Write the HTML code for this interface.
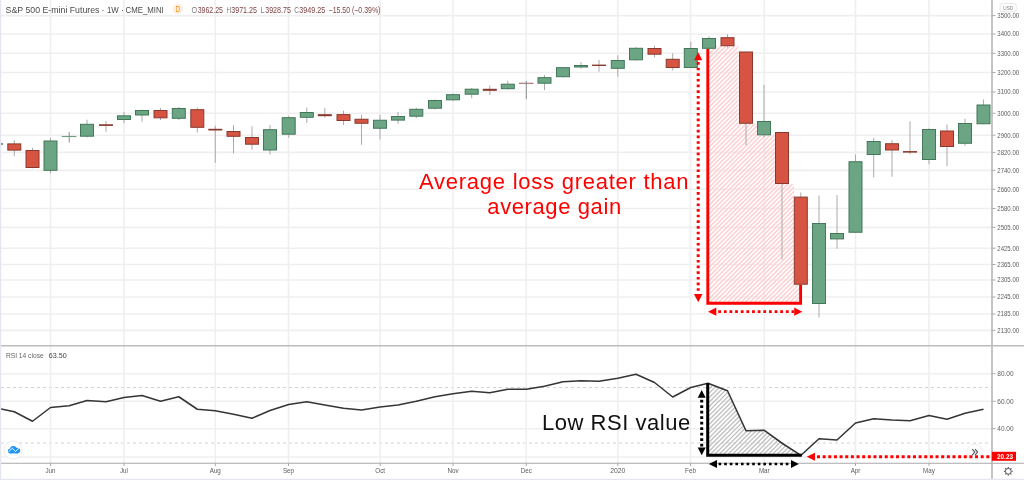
<!DOCTYPE html>
<html><head><meta charset="utf-8"><style>
html,body{margin:0;padding:0;width:1024px;height:480px;overflow:hidden;background:#fff}
svg{will-change:transform}
</style></head><body>
<svg width="1024" height="480" viewBox="0 0 1024 480" style="position:absolute;left:0;top:0"><defs><pattern id="hr" patternUnits="userSpaceOnUse" width="2.6" height="2.6" patternTransform="rotate(45)"><rect x="0" y="0" width="1.2" height="2.6" fill="#ffc2c2"/></pattern><pattern id="hk" patternUnits="userSpaceOnUse" width="2.4" height="2.4" patternTransform="rotate(45)"><rect x="0" y="0" width="0.9" height="2.4" fill="#a8a8a8"/></pattern></defs><rect x="0" y="0" width="1024" height="480" fill="#ffffff"/><line x1="1" y1="15.6" x2="992" y2="15.6" stroke="#efeff0" stroke-width="1.6"/><line x1="1" y1="34" x2="992" y2="34" stroke="#efeff0" stroke-width="1.6"/><line x1="1" y1="53.3" x2="992" y2="53.3" stroke="#efeff0" stroke-width="1.6"/><line x1="1" y1="72.5" x2="992" y2="72.5" stroke="#efeff0" stroke-width="1.6"/><line x1="1" y1="92" x2="992" y2="92" stroke="#efeff0" stroke-width="1.6"/><line x1="1" y1="113.3" x2="992" y2="113.3" stroke="#efeff0" stroke-width="1.6"/><line x1="1" y1="135.2" x2="992" y2="135.2" stroke="#efeff0" stroke-width="1.6"/><line x1="1" y1="152.4" x2="992" y2="152.4" stroke="#efeff0" stroke-width="1.6"/><line x1="1" y1="170.4" x2="992" y2="170.4" stroke="#efeff0" stroke-width="1.6"/><line x1="1" y1="189.3" x2="992" y2="189.3" stroke="#efeff0" stroke-width="1.6"/><line x1="1" y1="208.5" x2="992" y2="208.5" stroke="#efeff0" stroke-width="1.6"/><line x1="1" y1="227.4" x2="992" y2="227.4" stroke="#efeff0" stroke-width="1.6"/><line x1="1" y1="248.2" x2="992" y2="248.2" stroke="#efeff0" stroke-width="1.6"/><line x1="1" y1="264.5" x2="992" y2="264.5" stroke="#efeff0" stroke-width="1.6"/><line x1="1" y1="280" x2="992" y2="280" stroke="#efeff0" stroke-width="1.6"/><line x1="1" y1="297" x2="992" y2="297" stroke="#efeff0" stroke-width="1.6"/><line x1="1" y1="314" x2="992" y2="314" stroke="#efeff0" stroke-width="1.6"/><line x1="1" y1="330.4" x2="992" y2="330.4" stroke="#efeff0" stroke-width="1.6"/><line x1="1" y1="373.75" x2="992" y2="373.75" stroke="#efeff0" stroke-width="1.6"/><line x1="1" y1="401.25" x2="992" y2="401.25" stroke="#efeff0" stroke-width="1.6"/><line x1="1" y1="428.75" x2="992" y2="428.75" stroke="#efeff0" stroke-width="1.6"/><line x1="1" y1="457" x2="992" y2="457" stroke="#efeff0" stroke-width="1.6"/><line x1="1" y1="387.5" x2="992" y2="387.5" stroke="#d2d2d2" stroke-width="1" stroke-dasharray="3 3"/><line x1="1" y1="443" x2="992" y2="443" stroke="#d2d2d2" stroke-width="1" stroke-dasharray="3 3"/><line x1="50.5" y1="0" x2="50.5" y2="463" stroke="#efeff0" stroke-width="1.6"/><line x1="124" y1="0" x2="124" y2="463" stroke="#efeff0" stroke-width="1.6"/><line x1="215.3" y1="0" x2="215.3" y2="463" stroke="#efeff0" stroke-width="1.6"/><line x1="288.5" y1="0" x2="288.5" y2="463" stroke="#efeff0" stroke-width="1.6"/><line x1="380.2" y1="0" x2="380.2" y2="463" stroke="#efeff0" stroke-width="1.6"/><line x1="453" y1="0" x2="453" y2="463" stroke="#efeff0" stroke-width="1.6"/><line x1="526.3" y1="0" x2="526.3" y2="463" stroke="#efeff0" stroke-width="1.6"/><line x1="617.8" y1="0" x2="617.8" y2="463" stroke="#efeff0" stroke-width="1.6"/><line x1="690.5" y1="0" x2="690.5" y2="463" stroke="#efeff0" stroke-width="1.6"/><line x1="764.3" y1="0" x2="764.3" y2="463" stroke="#efeff0" stroke-width="1.6"/><line x1="855.5" y1="0" x2="855.5" y2="463" stroke="#efeff0" stroke-width="1.6"/><line x1="929" y1="0" x2="929" y2="463" stroke="#efeff0" stroke-width="1.6"/><line x1="992" y1="0" x2="992" y2="479" stroke="#b0b0b2" stroke-width="1.5"/><line x1="0" y1="463.25" x2="1024" y2="463.25" stroke="#a9a9ab" stroke-width="1.1"/><line x1="992.3" y1="15.6" x2="995.5" y2="15.6" stroke="#a9a9ab" stroke-width="1"/><line x1="992.3" y1="34" x2="995.5" y2="34" stroke="#a9a9ab" stroke-width="1"/><line x1="992.3" y1="53.3" x2="995.5" y2="53.3" stroke="#a9a9ab" stroke-width="1"/><line x1="992.3" y1="72.5" x2="995.5" y2="72.5" stroke="#a9a9ab" stroke-width="1"/><line x1="992.3" y1="92" x2="995.5" y2="92" stroke="#a9a9ab" stroke-width="1"/><line x1="992.3" y1="113.3" x2="995.5" y2="113.3" stroke="#a9a9ab" stroke-width="1"/><line x1="992.3" y1="135.2" x2="995.5" y2="135.2" stroke="#a9a9ab" stroke-width="1"/><line x1="992.3" y1="152.4" x2="995.5" y2="152.4" stroke="#a9a9ab" stroke-width="1"/><line x1="992.3" y1="170.4" x2="995.5" y2="170.4" stroke="#a9a9ab" stroke-width="1"/><line x1="992.3" y1="189.3" x2="995.5" y2="189.3" stroke="#a9a9ab" stroke-width="1"/><line x1="992.3" y1="208.5" x2="995.5" y2="208.5" stroke="#a9a9ab" stroke-width="1"/><line x1="992.3" y1="227.4" x2="995.5" y2="227.4" stroke="#a9a9ab" stroke-width="1"/><line x1="992.3" y1="248.2" x2="995.5" y2="248.2" stroke="#a9a9ab" stroke-width="1"/><line x1="992.3" y1="264.5" x2="995.5" y2="264.5" stroke="#a9a9ab" stroke-width="1"/><line x1="992.3" y1="280" x2="995.5" y2="280" stroke="#a9a9ab" stroke-width="1"/><line x1="992.3" y1="297" x2="995.5" y2="297" stroke="#a9a9ab" stroke-width="1"/><line x1="992.3" y1="314" x2="995.5" y2="314" stroke="#a9a9ab" stroke-width="1"/><line x1="992.3" y1="330.4" x2="995.5" y2="330.4" stroke="#a9a9ab" stroke-width="1"/><line x1="992.3" y1="373.75" x2="995.5" y2="373.75" stroke="#a9a9ab" stroke-width="1"/><line x1="992.3" y1="401.25" x2="995.5" y2="401.25" stroke="#a9a9ab" stroke-width="1"/><line x1="992.3" y1="428.75" x2="995.5" y2="428.75" stroke="#a9a9ab" stroke-width="1"/><line x1="50.5" y1="463.25" x2="50.5" y2="466" stroke="#a9a9ab" stroke-width="1"/><line x1="124" y1="463.25" x2="124" y2="466" stroke="#a9a9ab" stroke-width="1"/><line x1="215.3" y1="463.25" x2="215.3" y2="466" stroke="#a9a9ab" stroke-width="1"/><line x1="288.5" y1="463.25" x2="288.5" y2="466" stroke="#a9a9ab" stroke-width="1"/><line x1="380.2" y1="463.25" x2="380.2" y2="466" stroke="#a9a9ab" stroke-width="1"/><line x1="453" y1="463.25" x2="453" y2="466" stroke="#a9a9ab" stroke-width="1"/><line x1="526.3" y1="463.25" x2="526.3" y2="466" stroke="#a9a9ab" stroke-width="1"/><line x1="617.8" y1="463.25" x2="617.8" y2="466" stroke="#a9a9ab" stroke-width="1"/><line x1="690.5" y1="463.25" x2="690.5" y2="466" stroke="#a9a9ab" stroke-width="1"/><line x1="764.3" y1="463.25" x2="764.3" y2="466" stroke="#a9a9ab" stroke-width="1"/><line x1="855.5" y1="463.25" x2="855.5" y2="466" stroke="#a9a9ab" stroke-width="1"/><line x1="929" y1="463.25" x2="929" y2="466" stroke="#a9a9ab" stroke-width="1"/><clipPath id="cr"><polygon points="709,46 738.5,46 738.5,123.6 757,123.6 757,135.3 775,135.3 775,184 794,184 794,284.7 801,284.7 801,303 709,303"/></clipPath><path clip-path="url(#cr)" d="M449.00,305 L709.00,45 M453.45,305 L713.45,45 M457.90,305 L717.90,45 M462.35,305 L722.35,45 M466.80,305 L726.80,45 M471.25,305 L731.25,45 M475.70,305 L735.70,45 M480.15,305 L740.15,45 M484.60,305 L744.60,45 M489.05,305 L749.05,45 M493.50,305 L753.50,45 M497.95,305 L757.95,45 M502.40,305 L762.40,45 M506.85,305 L766.85,45 M511.30,305 L771.30,45 M515.75,305 L775.75,45 M520.20,305 L780.20,45 M524.65,305 L784.65,45 M529.10,305 L789.10,45 M533.55,305 L793.55,45 M538.00,305 L798.00,45 M542.45,305 L802.45,45 M546.90,305 L806.90,45 M551.35,305 L811.35,45 M555.80,305 L815.80,45 M560.25,305 L820.25,45 M564.70,305 L824.70,45 M569.15,305 L829.15,45 M573.60,305 L833.60,45 M578.05,305 L838.05,45 M582.50,305 L842.50,45 M586.95,305 L846.95,45 M591.40,305 L851.40,45 M595.85,305 L855.85,45 M600.30,305 L860.30,45 M604.75,305 L864.75,45 M609.20,305 L869.20,45 M613.65,305 L873.65,45 M618.10,305 L878.10,45 M622.55,305 L882.55,45 M627.00,305 L887.00,45 M631.45,305 L891.45,45 M635.90,305 L895.90,45 M640.35,305 L900.35,45 M644.80,305 L904.80,45 M649.25,305 L909.25,45 M653.70,305 L913.70,45 M658.15,305 L918.15,45 M662.60,305 L922.60,45 M667.05,305 L927.05,45 M671.50,305 L931.50,45 M675.95,305 L935.95,45 M680.40,305 L940.40,45 M684.85,305 L944.85,45 M689.30,305 L949.30,45 M693.75,305 L953.75,45 M698.20,305 L958.20,45 M702.65,305 L962.65,45 M707.10,305 L967.10,45 M711.55,305 L971.55,45 M716.00,305 L976.00,45 M720.45,305 L980.45,45 M724.90,305 L984.90,45 M729.35,305 L989.35,45 M733.80,305 L993.80,45 M738.25,305 L998.25,45 M742.70,305 L1002.70,45 M747.15,305 L1007.15,45 M751.60,305 L1011.60,45 M756.05,305 L1016.05,45 M760.50,305 L1020.50,45 M764.95,305 L1024.95,45 M769.40,305 L1029.40,45 M773.85,305 L1033.85,45 M778.30,305 L1038.30,45 M782.75,305 L1042.75,45 M787.20,305 L1047.20,45 M791.65,305 L1051.65,45 M796.10,305 L1056.10,45 M800.55,305 L1060.55,45 M805.00,305 L1065.00,45" stroke="#ffcdcd" stroke-width="1.4" fill="none"/><path d="M707.8,48.8 V303.3 H800.6 V284.7" fill="none" stroke="#ff0000" stroke-width="2.9"/><line x1="-4.0" y1="141" x2="-4.0" y2="146" stroke="#aaaaac" stroke-width="1"/><rect x="-10.50" y="143.75" width="13.0" height="0.45" fill="#6ba583" stroke="#42775a" stroke-width="1"/><line x1="14.3" y1="140" x2="14.3" y2="156.25" stroke="#aaaaac" stroke-width="1"/><rect x="7.80" y="143.90" width="13.0" height="6.20" fill="#d75442" stroke="#873a2d" stroke-width="1"/><line x1="32.5" y1="147.8" x2="32.5" y2="168.3" stroke="#aaaaac" stroke-width="1"/><rect x="26.00" y="150.50" width="13.0" height="17.00" fill="#d75442" stroke="#873a2d" stroke-width="1"/><line x1="50.5" y1="138" x2="50.5" y2="173.3" stroke="#aaaaac" stroke-width="1"/><rect x="44.00" y="141.00" width="13.0" height="29.30" fill="#6ba583" stroke="#42775a" stroke-width="1"/><line x1="61.80" y1="136.50" x2="76.40" y2="136.50" stroke="#6e9c7e" stroke-width="1.1"/><line x1="69.2" y1="132" x2="69.2" y2="142.5" stroke="#8e8e90" stroke-width="1"/><line x1="87" y1="119.7" x2="87" y2="137.5" stroke="#aaaaac" stroke-width="1"/><rect x="80.50" y="124.30" width="13.0" height="11.90" fill="#6ba583" stroke="#42775a" stroke-width="1"/><line x1="106" y1="121" x2="106" y2="131.7" stroke="#aaaaac" stroke-width="1"/><rect x="99.50" y="124.80" width="13.0" height="0.60" fill="#d75442" stroke="#873a2d" stroke-width="1"/><line x1="124" y1="112" x2="124" y2="123.3" stroke="#aaaaac" stroke-width="1"/><rect x="117.50" y="115.80" width="13.0" height="3.70" fill="#6ba583" stroke="#42775a" stroke-width="1"/><line x1="142" y1="109.5" x2="142" y2="121.7" stroke="#aaaaac" stroke-width="1"/><rect x="135.50" y="110.50" width="13.0" height="4.50" fill="#6ba583" stroke="#42775a" stroke-width="1"/><line x1="160.5" y1="108" x2="160.5" y2="120" stroke="#aaaaac" stroke-width="1"/><rect x="154.00" y="110.50" width="13.0" height="7.30" fill="#d75442" stroke="#873a2d" stroke-width="1"/><line x1="178.8" y1="107" x2="178.8" y2="120" stroke="#aaaaac" stroke-width="1"/><rect x="172.30" y="108.50" width="13.0" height="9.80" fill="#6ba583" stroke="#42775a" stroke-width="1"/><line x1="197.3" y1="107.5" x2="197.3" y2="132.5" stroke="#aaaaac" stroke-width="1"/><rect x="190.80" y="109.70" width="13.0" height="17.60" fill="#d75442" stroke="#873a2d" stroke-width="1"/><line x1="215.3" y1="125.8" x2="215.3" y2="162.8" stroke="#aaaaac" stroke-width="1"/><rect x="208.80" y="129.30" width="13.0" height="0.70" fill="#d75442" stroke="#873a2d" stroke-width="1"/><line x1="233.5" y1="125" x2="233.5" y2="153.3" stroke="#aaaaac" stroke-width="1"/><rect x="227.00" y="131.50" width="13.0" height="4.80" fill="#d75442" stroke="#873a2d" stroke-width="1"/><line x1="252" y1="126.3" x2="252" y2="149.7" stroke="#aaaaac" stroke-width="1"/><rect x="245.50" y="137.50" width="13.0" height="6.70" fill="#d75442" stroke="#873a2d" stroke-width="1"/><line x1="270" y1="124.7" x2="270" y2="154.7" stroke="#aaaaac" stroke-width="1"/><rect x="263.50" y="129.70" width="13.0" height="20.30" fill="#6ba583" stroke="#42775a" stroke-width="1"/><line x1="288.7" y1="115.8" x2="288.7" y2="137.8" stroke="#aaaaac" stroke-width="1"/><rect x="282.20" y="117.70" width="13.0" height="16.50" fill="#6ba583" stroke="#42775a" stroke-width="1"/><line x1="306.8" y1="107.5" x2="306.8" y2="123" stroke="#aaaaac" stroke-width="1"/><rect x="300.30" y="112.50" width="13.0" height="4.80" fill="#6ba583" stroke="#42775a" stroke-width="1"/><line x1="324.8" y1="108" x2="324.8" y2="117.5" stroke="#aaaaac" stroke-width="1"/><rect x="318.30" y="114.70" width="13.0" height="1.00" fill="#d75442" stroke="#873a2d" stroke-width="1"/><line x1="343.5" y1="110.6" x2="343.5" y2="125" stroke="#aaaaac" stroke-width="1"/><rect x="337.00" y="114.60" width="13.0" height="5.90" fill="#d75442" stroke="#873a2d" stroke-width="1"/><line x1="361.5" y1="114.75" x2="361.5" y2="144.75" stroke="#aaaaac" stroke-width="1"/><rect x="355.00" y="119.25" width="13.0" height="4.00" fill="#d75442" stroke="#873a2d" stroke-width="1"/><line x1="380" y1="114.75" x2="380" y2="139.4" stroke="#aaaaac" stroke-width="1"/><rect x="373.50" y="120.25" width="13.0" height="8.00" fill="#6ba583" stroke="#42775a" stroke-width="1"/><line x1="398" y1="111.9" x2="398" y2="123.75" stroke="#aaaaac" stroke-width="1"/><rect x="391.50" y="116.50" width="13.0" height="3.60" fill="#6ba583" stroke="#42775a" stroke-width="1"/><line x1="416.3" y1="107.8" x2="416.3" y2="118" stroke="#aaaaac" stroke-width="1"/><rect x="409.80" y="109.30" width="13.0" height="6.90" fill="#6ba583" stroke="#42775a" stroke-width="1"/><line x1="435" y1="99.5" x2="435" y2="109.5" stroke="#aaaaac" stroke-width="1"/><rect x="428.50" y="100.50" width="13.0" height="7.70" fill="#6ba583" stroke="#42775a" stroke-width="1"/><line x1="453" y1="93.5" x2="453" y2="101" stroke="#aaaaac" stroke-width="1"/><rect x="446.50" y="94.70" width="13.0" height="5.10" fill="#6ba583" stroke="#42775a" stroke-width="1"/><line x1="471.7" y1="88" x2="471.7" y2="98.3" stroke="#aaaaac" stroke-width="1"/><rect x="465.20" y="89.20" width="13.0" height="5.00" fill="#6ba583" stroke="#42775a" stroke-width="1"/><line x1="489.8" y1="85.5" x2="489.8" y2="95" stroke="#aaaaac" stroke-width="1"/><rect x="483.30" y="89.30" width="13.0" height="1.00" fill="#d75442" stroke="#873a2d" stroke-width="1"/><line x1="507.8" y1="80.8" x2="507.8" y2="89.5" stroke="#aaaaac" stroke-width="1"/><rect x="501.30" y="84.20" width="13.0" height="4.50" fill="#6ba583" stroke="#42775a" stroke-width="1"/><line x1="518.90" y1="83.30" x2="533.50" y2="83.30" stroke="#aa6a6a" stroke-width="1.1"/><line x1="526.3" y1="80.8" x2="526.3" y2="99.2" stroke="#8e8e90" stroke-width="1"/><line x1="544.5" y1="75" x2="544.5" y2="90" stroke="#aaaaac" stroke-width="1"/><rect x="538.00" y="77.70" width="13.0" height="5.50" fill="#6ba583" stroke="#42775a" stroke-width="1"/><line x1="563" y1="67" x2="563" y2="77.5" stroke="#aaaaac" stroke-width="1"/><rect x="556.50" y="67.70" width="13.0" height="9.00" fill="#6ba583" stroke="#42775a" stroke-width="1"/><line x1="581" y1="62" x2="581" y2="68.7" stroke="#aaaaac" stroke-width="1"/><rect x="574.50" y="65.50" width="13.0" height="1.50" fill="#6ba583" stroke="#42775a" stroke-width="1"/><line x1="599" y1="60" x2="599" y2="71.7" stroke="#aaaaac" stroke-width="1"/><rect x="592.50" y="65.10" width="13.0" height="0.40" fill="#d75442" stroke="#873a2d" stroke-width="1"/><line x1="617.8" y1="55.3" x2="617.8" y2="76.7" stroke="#aaaaac" stroke-width="1"/><rect x="611.30" y="60.50" width="13.0" height="7.80" fill="#6ba583" stroke="#42775a" stroke-width="1"/><line x1="636" y1="47" x2="636" y2="60.5" stroke="#aaaaac" stroke-width="1"/><rect x="629.50" y="48.30" width="13.0" height="11.50" fill="#6ba583" stroke="#42775a" stroke-width="1"/><line x1="654.5" y1="45.8" x2="654.5" y2="57.5" stroke="#aaaaac" stroke-width="1"/><rect x="648.00" y="48.50" width="13.0" height="5.70" fill="#d75442" stroke="#873a2d" stroke-width="1"/><line x1="672.7" y1="53.3" x2="672.7" y2="70.5" stroke="#aaaaac" stroke-width="1"/><rect x="666.20" y="59.30" width="13.0" height="8.20" fill="#d75442" stroke="#873a2d" stroke-width="1"/><line x1="690.8" y1="41.7" x2="690.8" y2="68" stroke="#aaaaac" stroke-width="1"/><rect x="684.30" y="48.50" width="13.0" height="19.00" fill="#6ba583" stroke="#42775a" stroke-width="1"/><line x1="709" y1="36.3" x2="709" y2="48.8" stroke="#aaaaac" stroke-width="1"/><rect x="702.50" y="38.50" width="13.0" height="9.80" fill="#6ba583" stroke="#42775a" stroke-width="1"/><line x1="727.5" y1="34.2" x2="727.5" y2="47.5" stroke="#aaaaac" stroke-width="1"/><rect x="721.00" y="37.70" width="13.0" height="8.00" fill="#d75442" stroke="#873a2d" stroke-width="1"/><line x1="746" y1="51.5" x2="746" y2="145" stroke="#aaaaac" stroke-width="1"/><rect x="739.50" y="52.00" width="13.0" height="71.25" fill="#d75442" stroke="#873a2d" stroke-width="1"/><line x1="764" y1="84.8" x2="764" y2="137" stroke="#aaaaac" stroke-width="1"/><rect x="757.50" y="121.50" width="13.0" height="13.30" fill="#6ba583" stroke="#42775a" stroke-width="1"/><line x1="782" y1="132" x2="782" y2="259.7" stroke="#aaaaac" stroke-width="1"/><rect x="775.50" y="132.50" width="13.0" height="51.00" fill="#d75442" stroke="#873a2d" stroke-width="1"/><line x1="800.8" y1="192.5" x2="800.8" y2="284.7" stroke="#aaaaac" stroke-width="1"/><rect x="794.30" y="197.10" width="13.0" height="87.10" fill="#d75442" stroke="#873a2d" stroke-width="1"/><line x1="819" y1="195.6" x2="819" y2="317.5" stroke="#aaaaac" stroke-width="1"/><rect x="812.50" y="223.50" width="13.0" height="80.00" fill="#6ba583" stroke="#42775a" stroke-width="1"/><line x1="837" y1="195" x2="837" y2="248.75" stroke="#aaaaac" stroke-width="1"/><rect x="830.50" y="233.50" width="13.0" height="5.40" fill="#6ba583" stroke="#42775a" stroke-width="1"/><line x1="855.5" y1="154.5" x2="855.5" y2="232.75" stroke="#aaaaac" stroke-width="1"/><rect x="849.00" y="161.75" width="13.0" height="70.50" fill="#6ba583" stroke="#42775a" stroke-width="1"/><line x1="873.7" y1="138" x2="873.7" y2="177.5" stroke="#aaaaac" stroke-width="1"/><rect x="867.20" y="141.50" width="13.0" height="13.00" fill="#6ba583" stroke="#42775a" stroke-width="1"/><line x1="892" y1="140" x2="892" y2="176.75" stroke="#aaaaac" stroke-width="1"/><rect x="885.50" y="143.75" width="13.0" height="6.25" fill="#d75442" stroke="#873a2d" stroke-width="1"/><line x1="910" y1="121.25" x2="910" y2="154.25" stroke="#aaaaac" stroke-width="1"/><rect x="903.50" y="151.60" width="13.0" height="0.50" fill="#d75442" stroke="#873a2d" stroke-width="1"/><line x1="929" y1="128.25" x2="929" y2="164.25" stroke="#aaaaac" stroke-width="1"/><rect x="922.50" y="129.50" width="13.0" height="30.00" fill="#6ba583" stroke="#42775a" stroke-width="1"/><line x1="947" y1="124.5" x2="947" y2="166.25" stroke="#aaaaac" stroke-width="1"/><rect x="940.50" y="131.00" width="13.0" height="15.50" fill="#d75442" stroke="#873a2d" stroke-width="1"/><line x1="965" y1="118.75" x2="965" y2="145.75" stroke="#aaaaac" stroke-width="1"/><rect x="958.50" y="123.50" width="13.0" height="19.75" fill="#6ba583" stroke="#42775a" stroke-width="1"/><line x1="983.5" y1="99.5" x2="983.5" y2="124.25" stroke="#aaaaac" stroke-width="1"/><rect x="977.00" y="105.00" width="13.0" height="18.75" fill="#6ba583" stroke="#42775a" stroke-width="1"/><line x1="698.2" y1="62" x2="698.2" y2="291" stroke="#ff0000" stroke-width="3" stroke-dasharray="2.65 3.005"/><polygon points="698.2,52.3 694.2,60.3 702.3,60.3" fill="#ff0000"/><polygon points="698.2,302.2 694,294 702.5,294" fill="#ff0000"/><line x1="718.2" y1="311.7" x2="794" y2="311.7" stroke="#ff0000" stroke-width="2.8" stroke-dasharray="2.8 2.84"/><polygon points="708,311.7 716.3,307.6 716.3,315.8" fill="#ff0000"/><polygon points="802.3,311.7 794.2,307.5 794.2,315.8" fill="#ff0000"/><line x1="1" y1="345.75" x2="1024" y2="345.75" stroke="#bcbcbe" stroke-width="1.7"/><clipPath id="ck"><polygon points="708,383.3 727.5,390.7 746,430.75 764,430.2 782.5,443.5 801,455.3 708,455.3"/></clipPath><path clip-path="url(#ck)" d="M633.00,456 L708.00,381 M637.45,456 L712.45,381 M641.90,456 L716.90,381 M646.35,456 L721.35,381 M650.80,456 L725.80,381 M655.25,456 L730.25,381 M659.70,456 L734.70,381 M664.15,456 L739.15,381 M668.60,456 L743.60,381 M673.05,456 L748.05,381 M677.50,456 L752.50,381 M681.95,456 L756.95,381 M686.40,456 L761.40,381 M690.85,456 L765.85,381 M695.30,456 L770.30,381 M699.75,456 L774.75,381 M704.20,456 L779.20,381 M708.65,456 L783.65,381 M713.10,456 L788.10,381 M717.55,456 L792.55,381 M722.00,456 L797.00,381 M726.45,456 L801.45,381 M730.90,456 L805.90,381 M735.35,456 L810.35,381 M739.80,456 L814.80,381 M744.25,456 L819.25,381 M748.70,456 L823.70,381 M753.15,456 L828.15,381 M757.60,456 L832.60,381 M762.05,456 L837.05,381 M766.50,456 L841.50,381 M770.95,456 L845.95,381 M775.40,456 L850.40,381 M779.85,456 L854.85,381 M784.30,456 L859.30,381 M788.75,456 L863.75,381 M793.20,456 L868.20,381 M797.65,456 L872.65,381 M802.10,456 L877.10,381" stroke="#c2c2c2" stroke-width="1.35" fill="none"/><polyline points="0,408.75 14.3,411.75 32.5,421.25 50.5,407.5 69.2,405.75 87,400.5 106,401.75 124,397.5 142,395.5 160.5,401.25 178.8,396.75 197.3,409.25 215.3,410.75 233.5,414.25 252,418.25 270,410.5 288.7,404.5 306.8,401.75 324.8,405 343.5,408.25 361.5,410 380,407 398,405 416.3,401.25 435,396.75 453,393.75 471.7,391.25 489.8,392.75 507.8,389.25 526.3,389.25 544.5,386.25 563,381.75 581,380.75 599,381.25 617.8,378.25 636,374.25 654.5,382.5 672.7,397 690.8,387.5 708,383.3 727.5,390.7 746,430.75 764,430.2 782.5,443.5 801,455.3 819,438.75 837,440 855.5,423 873.7,418.75 892,420 910,420.75 929,415.5 947,419.25 965,413.25 983.5,409.25" fill="none" stroke="#353535" stroke-width="1.55" stroke-linejoin="round"/><path d="M707.7,383.3 V455.2 H801.8" fill="none" stroke="#000" stroke-width="3"/><line x1="701.7" y1="399.8" x2="701.7" y2="447" stroke="#000" stroke-width="3" stroke-dasharray="2.7 2.8"/><polygon points="701.7,390 697.7,397.7 705.7,397.7" fill="#000"/><polygon points="701.7,455.2 697.7,447.5 705.7,447.5" fill="#000"/><line x1="718.6" y1="464" x2="790" y2="464" stroke="#000" stroke-width="2.6" stroke-dasharray="2.6 3.0"/><polygon points="708.8,464 717,459.9 717,468.1" fill="#000"/><polygon points="798.8,464 791,460 791,468" fill="#000"/><rect x="0" y="0" width="1.2" height="480" fill="#e3e6ee"/><rect x="0" y="478.8" width="1024" height="1.2" fill="#e3e6ee"/><text x="997.3" y="18.0" font-family="'Liberation Sans', sans-serif" font-size="7.4" fill="#5e5e5e" text-anchor="start" font-weight="normal" textLength="21.8" lengthAdjust="spacingAndGlyphs">3500.00</text><text x="997.3" y="36.4" font-family="'Liberation Sans', sans-serif" font-size="7.4" fill="#5e5e5e" text-anchor="start" font-weight="normal" textLength="21.8" lengthAdjust="spacingAndGlyphs">3400.00</text><text x="997.3" y="55.699999999999996" font-family="'Liberation Sans', sans-serif" font-size="7.4" fill="#5e5e5e" text-anchor="start" font-weight="normal" textLength="21.8" lengthAdjust="spacingAndGlyphs">3300.00</text><text x="997.3" y="74.9" font-family="'Liberation Sans', sans-serif" font-size="7.4" fill="#5e5e5e" text-anchor="start" font-weight="normal" textLength="21.8" lengthAdjust="spacingAndGlyphs">3200.00</text><text x="997.3" y="94.4" font-family="'Liberation Sans', sans-serif" font-size="7.4" fill="#5e5e5e" text-anchor="start" font-weight="normal" textLength="21.8" lengthAdjust="spacingAndGlyphs">3100.00</text><text x="997.3" y="115.7" font-family="'Liberation Sans', sans-serif" font-size="7.4" fill="#5e5e5e" text-anchor="start" font-weight="normal" textLength="21.8" lengthAdjust="spacingAndGlyphs">3000.00</text><text x="997.3" y="137.6" font-family="'Liberation Sans', sans-serif" font-size="7.4" fill="#5e5e5e" text-anchor="start" font-weight="normal" textLength="21.8" lengthAdjust="spacingAndGlyphs">2900.00</text><text x="997.3" y="154.8" font-family="'Liberation Sans', sans-serif" font-size="7.4" fill="#5e5e5e" text-anchor="start" font-weight="normal" textLength="21.8" lengthAdjust="spacingAndGlyphs">2820.00</text><text x="997.3" y="172.8" font-family="'Liberation Sans', sans-serif" font-size="7.4" fill="#5e5e5e" text-anchor="start" font-weight="normal" textLength="21.8" lengthAdjust="spacingAndGlyphs">2740.00</text><text x="997.3" y="191.70000000000002" font-family="'Liberation Sans', sans-serif" font-size="7.4" fill="#5e5e5e" text-anchor="start" font-weight="normal" textLength="21.8" lengthAdjust="spacingAndGlyphs">2660.00</text><text x="997.3" y="210.9" font-family="'Liberation Sans', sans-serif" font-size="7.4" fill="#5e5e5e" text-anchor="start" font-weight="normal" textLength="21.8" lengthAdjust="spacingAndGlyphs">2580.00</text><text x="997.3" y="229.8" font-family="'Liberation Sans', sans-serif" font-size="7.4" fill="#5e5e5e" text-anchor="start" font-weight="normal" textLength="21.8" lengthAdjust="spacingAndGlyphs">2505.00</text><text x="997.3" y="250.6" font-family="'Liberation Sans', sans-serif" font-size="7.4" fill="#5e5e5e" text-anchor="start" font-weight="normal" textLength="21.8" lengthAdjust="spacingAndGlyphs">2425.00</text><text x="997.3" y="266.9" font-family="'Liberation Sans', sans-serif" font-size="7.4" fill="#5e5e5e" text-anchor="start" font-weight="normal" textLength="21.8" lengthAdjust="spacingAndGlyphs">2365.00</text><text x="997.3" y="282.4" font-family="'Liberation Sans', sans-serif" font-size="7.4" fill="#5e5e5e" text-anchor="start" font-weight="normal" textLength="21.8" lengthAdjust="spacingAndGlyphs">2305.00</text><text x="997.3" y="299.4" font-family="'Liberation Sans', sans-serif" font-size="7.4" fill="#5e5e5e" text-anchor="start" font-weight="normal" textLength="21.8" lengthAdjust="spacingAndGlyphs">2245.00</text><text x="997.3" y="316.4" font-family="'Liberation Sans', sans-serif" font-size="7.4" fill="#5e5e5e" text-anchor="start" font-weight="normal" textLength="21.8" lengthAdjust="spacingAndGlyphs">2185.00</text><text x="997.3" y="332.79999999999995" font-family="'Liberation Sans', sans-serif" font-size="7.4" fill="#5e5e5e" text-anchor="start" font-weight="normal" textLength="21.8" lengthAdjust="spacingAndGlyphs">2130.00</text><text x="997.3" y="376.15" font-family="'Liberation Sans', sans-serif" font-size="7.4" fill="#5e5e5e" text-anchor="start" font-weight="normal" textLength="16.3" lengthAdjust="spacingAndGlyphs">80.00</text><text x="997.3" y="403.65" font-family="'Liberation Sans', sans-serif" font-size="7.4" fill="#5e5e5e" text-anchor="start" font-weight="normal" textLength="16.3" lengthAdjust="spacingAndGlyphs">60.00</text><text x="997.3" y="431.15" font-family="'Liberation Sans', sans-serif" font-size="7.4" fill="#5e5e5e" text-anchor="start" font-weight="normal" textLength="16.3" lengthAdjust="spacingAndGlyphs">40.00</text><text x="50.5" y="472.9" font-family="'Liberation Sans', sans-serif" font-size="7.2" fill="#5a5a5a" text-anchor="middle" font-weight="normal" textLength="10.08" lengthAdjust="spacingAndGlyphs">Jun</text><text x="124" y="472.9" font-family="'Liberation Sans', sans-serif" font-size="7.2" fill="#5a5a5a" text-anchor="middle" font-weight="normal" textLength="8.0" lengthAdjust="spacingAndGlyphs">Jul</text><text x="215.3" y="472.9" font-family="'Liberation Sans', sans-serif" font-size="7.2" fill="#5a5a5a" text-anchor="middle" font-weight="normal" textLength="11.14" lengthAdjust="spacingAndGlyphs">Aug</text><text x="288.5" y="472.9" font-family="'Liberation Sans', sans-serif" font-size="7.2" fill="#5a5a5a" text-anchor="middle" font-weight="normal" textLength="11.14" lengthAdjust="spacingAndGlyphs">Sep</text><text x="380.2" y="472.9" font-family="'Liberation Sans', sans-serif" font-size="7.2" fill="#5a5a5a" text-anchor="middle" font-weight="normal" textLength="9.74" lengthAdjust="spacingAndGlyphs">Oct</text><text x="453" y="472.9" font-family="'Liberation Sans', sans-serif" font-size="7.2" fill="#5a5a5a" text-anchor="middle" font-weight="normal" textLength="11.14" lengthAdjust="spacingAndGlyphs">Nov</text><text x="526.3" y="472.9" font-family="'Liberation Sans', sans-serif" font-size="7.2" fill="#5a5a5a" text-anchor="middle" font-weight="normal" textLength="11.14" lengthAdjust="spacingAndGlyphs">Dec</text><text x="617.8" y="472.9" font-family="'Liberation Sans', sans-serif" font-size="7.2" fill="#5a5a5a" text-anchor="middle" font-weight="normal" textLength="15.04" lengthAdjust="spacingAndGlyphs">2020</text><text x="690.5" y="472.9" font-family="'Liberation Sans', sans-serif" font-size="7.2" fill="#5a5a5a" text-anchor="middle" font-weight="normal" textLength="10.78" lengthAdjust="spacingAndGlyphs">Feb</text><text x="764.3" y="472.9" font-family="'Liberation Sans', sans-serif" font-size="7.2" fill="#5a5a5a" text-anchor="middle" font-weight="normal" textLength="10.78" lengthAdjust="spacingAndGlyphs">Mar</text><text x="855.5" y="472.9" font-family="'Liberation Sans', sans-serif" font-size="7.2" fill="#5a5a5a" text-anchor="middle" font-weight="normal" textLength="9.74" lengthAdjust="spacingAndGlyphs">Apr</text><text x="929" y="472.9" font-family="'Liberation Sans', sans-serif" font-size="7.2" fill="#5a5a5a" text-anchor="middle" font-weight="normal" textLength="11.82" lengthAdjust="spacingAndGlyphs">May</text><text x="5.6" y="12.6" font-family="'Liberation Sans', sans-serif" font-size="9.8" fill="#4a4a4a" text-anchor="start" font-weight="normal" textLength="93.9" lengthAdjust="spacingAndGlyphs">S&amp;P 500 E-mini Futures</text><text x="103" y="12.6" font-family="'Liberation Sans', sans-serif" font-size="9" fill="#4a4a4a" text-anchor="middle" font-weight="normal">·</text><text x="107" y="12.6" font-family="'Liberation Sans', sans-serif" font-size="9.8" fill="#4a4a4a" text-anchor="start" font-weight="normal" textLength="11.8" lengthAdjust="spacingAndGlyphs">1W</text><text x="122.5" y="12.6" font-family="'Liberation Sans', sans-serif" font-size="9" fill="#4a4a4a" text-anchor="middle" font-weight="normal">·</text><text x="125.5" y="12.6" font-family="'Liberation Sans', sans-serif" font-size="9.8" fill="#4a4a4a" text-anchor="start" font-weight="normal" textLength="38.3" lengthAdjust="spacingAndGlyphs">CME_MINI</text><circle cx="177.8" cy="9" r="5.1" fill="#feeedd"/><text x="175.6" y="12.1" font-family="'Liberation Sans', sans-serif" font-size="8.6" fill="#f7931a" text-anchor="start" font-weight="normal" textLength="4.6" lengthAdjust="spacingAndGlyphs">D</text><text x="191.6" y="12.6" font-family="'Liberation Sans', sans-serif" font-size="8.7" fill="#7a7a7a" text-anchor="start" font-weight="normal" textLength="5.6" lengthAdjust="spacingAndGlyphs">O</text><text x="197.7" y="12.6" font-family="'Liberation Sans', sans-serif" font-size="8.7" fill="#7f4343" text-anchor="start" font-weight="normal" textLength="25.2" lengthAdjust="spacingAndGlyphs">3962.25</text><text x="226.6" y="12.6" font-family="'Liberation Sans', sans-serif" font-size="8.7" fill="#7a7a7a" text-anchor="start" font-weight="normal" textLength="4.6" lengthAdjust="spacingAndGlyphs">H</text><text x="231.2" y="12.6" font-family="'Liberation Sans', sans-serif" font-size="8.7" fill="#7f4343" text-anchor="start" font-weight="normal" textLength="25.8" lengthAdjust="spacingAndGlyphs">3971.25</text><text x="260.6" y="12.6" font-family="'Liberation Sans', sans-serif" font-size="8.7" fill="#7a7a7a" text-anchor="start" font-weight="normal" textLength="4.0" lengthAdjust="spacingAndGlyphs">L</text><text x="265.2" y="12.6" font-family="'Liberation Sans', sans-serif" font-size="8.7" fill="#7f4343" text-anchor="start" font-weight="normal" textLength="25.7" lengthAdjust="spacingAndGlyphs">3928.75</text><text x="294.2" y="12.6" font-family="'Liberation Sans', sans-serif" font-size="8.7" fill="#7a7a7a" text-anchor="start" font-weight="normal" textLength="4.8" lengthAdjust="spacingAndGlyphs">C</text><text x="299.2" y="12.6" font-family="'Liberation Sans', sans-serif" font-size="8.7" fill="#7f4343" text-anchor="start" font-weight="normal" textLength="26" lengthAdjust="spacingAndGlyphs">3949.25</text><text x="328.6" y="12.6" font-family="'Liberation Sans', sans-serif" font-size="8.7" fill="#7f4343" text-anchor="start" font-weight="normal" textLength="51.8" lengthAdjust="spacingAndGlyphs">−15.50 (−0.39%)</text><rect x="1000.2" y="3.6" width="16" height="8.2" rx="2" fill="#fff" stroke="#e3e6ee" stroke-width="1"/><text x="1008.2" y="10.2" font-family="'Liberation Sans', sans-serif" font-size="6.2" fill="#858585" text-anchor="middle" font-weight="normal" textLength="10.6" lengthAdjust="spacingAndGlyphs">USD</text><circle cx="13.1" cy="450" r="9" fill="#fff" stroke="#ececec" stroke-width="1"/><g fill="#2196f3"><circle cx="10.4" cy="450.9" r="2.5"/><circle cx="13.4" cy="449.3" r="3.3"/><circle cx="17.4" cy="450.6" r="2.8"/><rect x="10.4" y="450" width="7" height="3.4"/></g><polyline points="8.6,451.8 12.4,448.2 15.4,451.6 19.4,447.8" fill="none" stroke="#fff" stroke-width="0.9"/><circle cx="974.8" cy="452.3" r="8" fill="#fff" fill-opacity="0.9" stroke="#efefef" stroke-width="1"/><path d="M972.2,449 L974.8,452.1 L972.2,455.2 M975,449 L977.6,452.1 L975,455.2" fill="none" stroke="#50535e" stroke-width="1.15"/><line x1="817" y1="456.8" x2="991" y2="456.8" stroke="#ff0000" stroke-width="2.9" stroke-dasharray="3 2.645"/><polygon points="806.7,456.8 815,452.8 815,460.7" fill="#ff0000"/><circle cx="1008.3" cy="471.3" r="2.9" fill="none" stroke="#50535e" stroke-width="1"/><line x1="1011.50" y1="471.30" x2="1012.70" y2="471.30" stroke="#50535e" stroke-width="1.1"/><line x1="1010.56" y1="473.56" x2="1011.41" y2="474.41" stroke="#50535e" stroke-width="1.1"/><line x1="1008.30" y1="474.50" x2="1008.30" y2="475.70" stroke="#50535e" stroke-width="1.1"/><line x1="1006.04" y1="473.56" x2="1005.19" y2="474.41" stroke="#50535e" stroke-width="1.1"/><line x1="1005.10" y1="471.30" x2="1003.90" y2="471.30" stroke="#50535e" stroke-width="1.1"/><line x1="1006.04" y1="469.04" x2="1005.19" y2="468.19" stroke="#50535e" stroke-width="1.1"/><line x1="1008.30" y1="468.10" x2="1008.30" y2="466.90" stroke="#50535e" stroke-width="1.1"/><line x1="1010.56" y1="469.04" x2="1011.41" y2="468.19" stroke="#50535e" stroke-width="1.1"/><text x="5.9" y="358.2" font-family="'Liberation Sans', sans-serif" font-size="7.5" fill="#666" text-anchor="start" font-weight="normal" textLength="37.8" lengthAdjust="spacingAndGlyphs">RSI 14 close</text><text x="48.8" y="358.2" font-family="'Liberation Sans', sans-serif" font-size="7.5" fill="#444" text-anchor="start" font-weight="normal" textLength="18" lengthAdjust="spacingAndGlyphs">63.50</text><text x="419" y="189.3" font-family="'Liberation Sans', sans-serif" font-size="22" fill="#ff0000" text-anchor="start" font-weight="normal" textLength="269.6" lengthAdjust="spacing">Average loss greater than</text><text x="487.3" y="214.2" font-family="'Liberation Sans', sans-serif" font-size="22" fill="#ff0000" text-anchor="start" font-weight="normal" textLength="133.9" lengthAdjust="spacing">average gain</text><text x="542" y="430.1" font-family="'Liberation Sans', sans-serif" font-size="22" fill="#111" text-anchor="start" font-weight="normal" textLength="148.25" lengthAdjust="spacing">Low RSI value</text><rect x="991.8" y="451.8" width="24.2" height="9" fill="#ff0000"/><text x="1005" y="459.2" font-family="'Liberation Sans', sans-serif" font-size="7.5" fill="#fff" text-anchor="middle" font-weight="bold" textLength="16" lengthAdjust="spacingAndGlyphs">20.23</text></svg>
</body></html>
